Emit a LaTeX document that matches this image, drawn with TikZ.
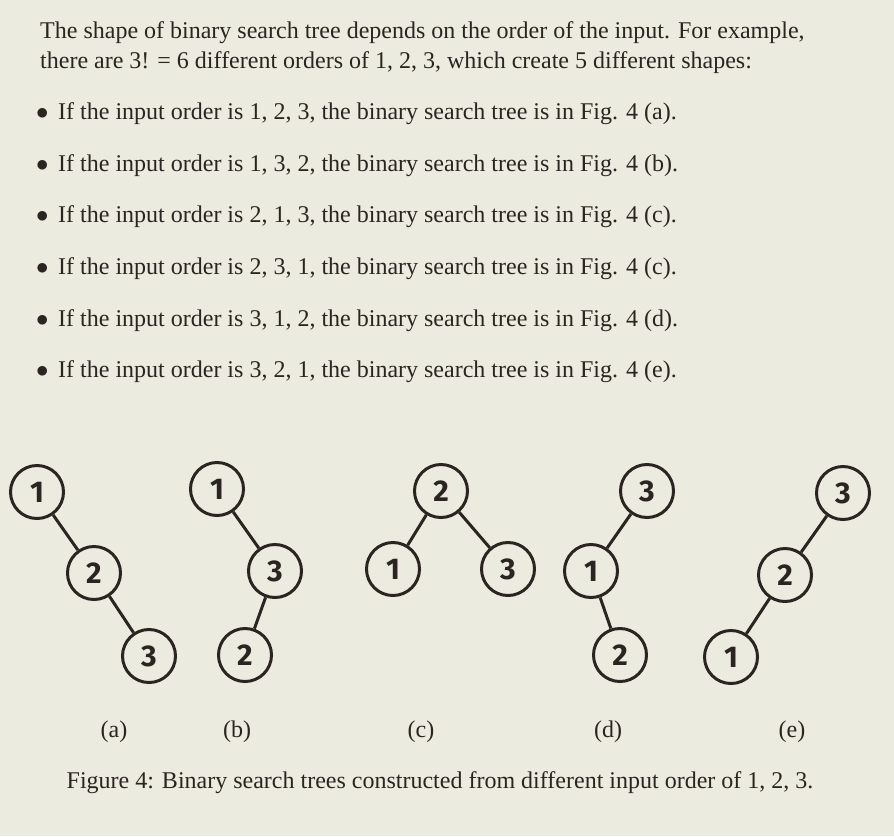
\documentclass[tikz,border=0pt]{standalone}
\usepackage{fontspec}
\setmainfont{Liberation Serif}
\newfontfamily\nodefont{Fira Sans}
\definecolor{bg}{HTML}{ECEBE0}
\definecolor{ink}{HTML}{2A2520}
\begin{document}
\begin{tikzpicture}[x=1pt,y=-1pt,
  bst/.style={circle,draw=ink,line width=3pt,minimum size=53pt,inner sep=0pt,font=\nodefont\bfseries\fontsize{30}{30}\selectfont,text=ink,fill=bg},
  edge/.style={draw=ink,line width=3pt},
  txt/.style={anchor=base west,text=ink,font=\fontsize{24}{28}\selectfont,inner sep=0pt},
  lab/.style={anchor=base,text=ink,font=\fontsize{24}{28}\selectfont,inner sep=0pt}]
\fill[bg] (0,0) rectangle (894,836);
\useasboundingbox (0,0) rectangle (894,836);
\node[txt] (t1) at (40,38) {The shape of binary search tree depends on the order of the input. For example,};
\node[txt] (t2) at (40,68) {there are 3! = 6 different orders of 1, 2, 3, which create 5 different shapes:};
\foreach \y/\o/\f [count=\i] in {119/{1, 2, 3}/a,171/{1, 3, 2}/b,222/{2, 1, 3}/c,274/{2, 3, 1}/c,326/{3, 1, 2}/d,377/{3, 2, 1}/e}{
  \node[txt] (bul\i) at (36,\y) {$\bullet$};
  \node[txt] (b\i) at (58,\y) {If the input order is \o, the binary search tree is in Fig. 4 (\f).};
}
% (a)
\node[bst] (a1) at (37,492) {1};
\node[bst] (a2) at (94,573) {2};
\node[bst] (a3) at (149,656) {3};
\draw[edge] (a1)--(a2) (a2)--(a3);
% (b)
\node[bst] (b1) at (217,489) {1};
\node[bst] (b3) at (275,571) {3};
\node[bst] (b2) at (245,655) {2};
\draw[edge] (b1)--(b3) (b3)--(b2);
% (c)
\node[bst] (c2) at (441,491) {2};
\node[bst] (c1) at (393,569) {1};
\node[bst] (c3) at (508,569) {3};
\draw[edge] (c2)--(c1) (c2)--(c3);
% (d)
\node[bst] (d3) at (647,491) {3};
\node[bst] (d1) at (591,571) {1};
\node[bst] (d2) at (620,655) {2};
\draw[edge] (d3)--(d1) (d1)--(d2);
% (e)
\node[bst] (e3) at (843,493) {3};
\node[bst] (e2) at (785,575) {2};
\node[bst] (e1) at (731,657) {1};
\draw[edge] (e3)--(e2) (e2)--(e1);
\foreach \x/\l in {114/a,237/b,421/c,608/d,792/e}
  \node[lab] (lab\l) at (\x,737) {(\l)};
\node[lab] (cap) at (440,788) {Figure 4: Binary search trees constructed from different input order of 1, 2, 3.};
\end{tikzpicture}
\end{document}
